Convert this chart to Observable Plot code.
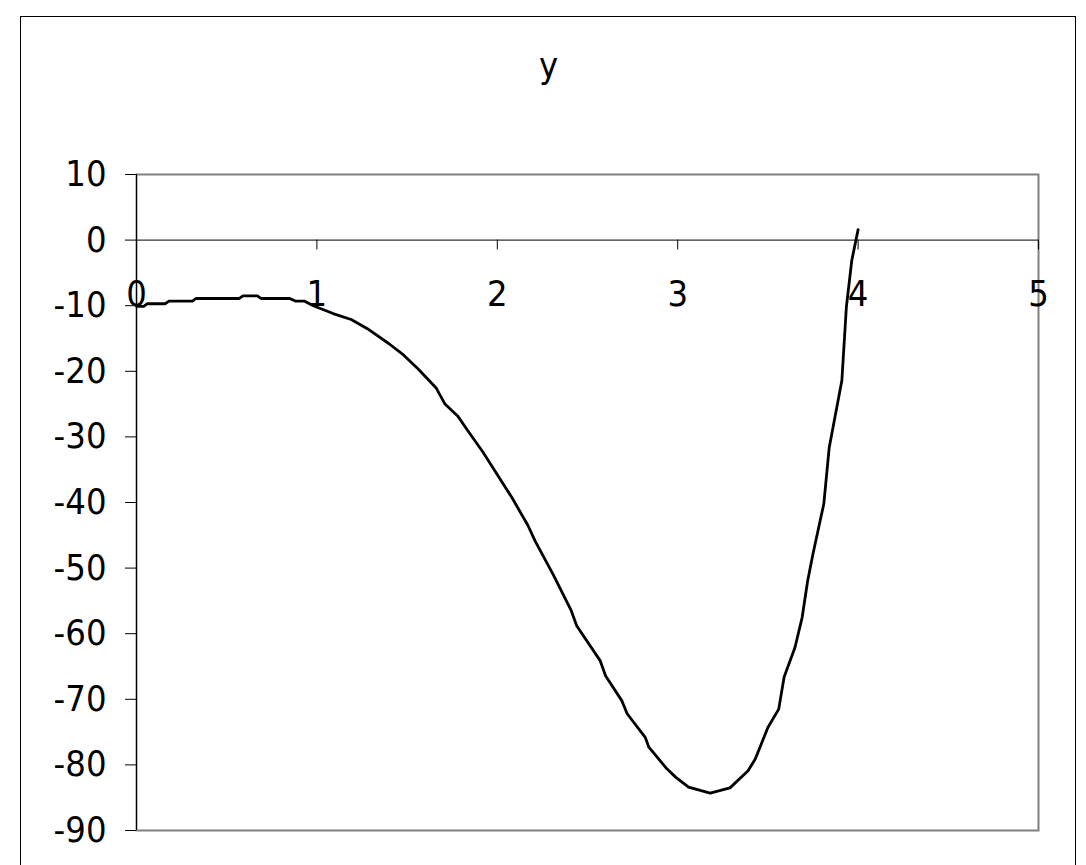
<!DOCTYPE html>
<html>
<head>
<meta charset="utf-8">
<script src="https://cdn.jsdelivr.net/npm/d3@7"></script>
<script src="https://cdn.jsdelivr.net/npm/@observablehq/plot@0.6"></script>
<style>
  html, body { margin: 0; padding: 0; background: #fff; overflow: hidden; }
  body { width: 1086px; height: 865px; position: relative; font-family: "DejaVu Sans Condensed", "DejaVu Sans", sans-serif; font-stretch: condensed; }
  #outer { position: absolute; left: 20px; top: 16px; width: 1056px; height: 900px; border: 1px solid #000; box-sizing: border-box; }
  #title { position: absolute; left: 20px; width: 1057px; top: 46px; text-align: center; font-size: 36px; line-height: 40px; color: #000; }
  #chart { position: absolute; left: 0; top: 0; }
</style>
</head>
<body>
<div id="outer"></div>
<div id="title">y</div>
<div id="chart"></div>
<script>
const xs = [0, 0.04, 0.06, 0.16, 0.18, 0.31, 0.33, 0.57, 0.59, 0.67, 0.69, 0.85, 0.88, 0.93, 0.98,
  1.09, 1.19, 1.28, 1.40, 1.48, 1.56, 1.66, 1.71, 1.78, 1.83, 1.92, 1.98,
  2.08, 2.17, 2.21, 2.31, 2.41, 2.44, 2.57, 2.60, 2.69, 2.72, 2.82, 2.84, 2.94, 2.99,
  3.06, 3.18, 3.29, 3.39, 3.43, 3.50, 3.56, 3.59, 3.65, 3.69, 3.72, 3.75, 3.81, 3.84, 3.91, 3.935, 3.965, 4.0];
const ys = [-10.1, -10.1, -9.7, -9.7, -9.3, -9.3, -8.9, -8.9, -8.5, -8.5, -8.9, -8.9, -9.3, -9.3, -10.0,
  -11.2, -12.1, -13.5, -15.8, -17.5, -19.6, -22.5, -25.0, -26.8, -28.8, -32.3, -34.9,
  -39.2, -43.5, -45.9, -51.0, -56.5, -58.8, -64.1, -66.4, -70.2, -72.2, -75.8, -77.3, -80.6, -81.9,
  -83.4, -84.3, -83.5, -80.9, -79.1, -74.3, -71.5, -66.6, -62.1, -57.5, -52.0, -47.8, -40.2, -31.6, -21.4, -10.2, -3.1, 1.6];
const xTicks = [0, 1, 2, 3, 4, 5];
const yTicks = [10, 0, -10, -20, -30, -40, -50, -60, -70, -80, -90];

const data = xs.map((x, i) => ({x, y: ys[i]}));
const font = '"DejaVu Sans Condensed", "DejaVu Sans", sans-serif';

const chart = Plot.plot({
  width: 1086,
  height: 865,
  marginLeft: 136,
  marginRight: 48,
  marginTop: 174,
  marginBottom: 35,
  style: { fontFamily: font, background: "transparent", fontStretch: "condensed" },
  x: { domain: [0, 5], axis: null },
  y: { domain: [-90, 10], axis: null },
  marks: [
    Plot.frame({ stroke: "#808080", strokeWidth: 2 }),
    Plot.ruleX([0], { stroke: "#000", strokeWidth: 1 }),
    Plot.axisY(yTicks, { tickSize: 11, tickPadding: 19, fontSize: 36, tickFormat: d => String(d), label: null, stroke: "#000", color: "#000" }),
    Plot.ruleY([0], { stroke: "#000", strokeWidth: 1 }),
    Plot.ruleX(xTicks, { x: d => d, y1: 0, y2: -1.5, stroke: "#000", strokeWidth: 1 }),
    Plot.text(xTicks, { x: d => d, y: 0, text: d => String(d), dy: 40, lineAnchor: "top", fontSize: 36, fill: "#000" }),
    Plot.line(data, { x: "x", y: "y", stroke: "#000", strokeWidth: 2.8, curve: "linear" })
  ]
});
document.getElementById("chart").appendChild(chart);
</script>
</body>
</html>
